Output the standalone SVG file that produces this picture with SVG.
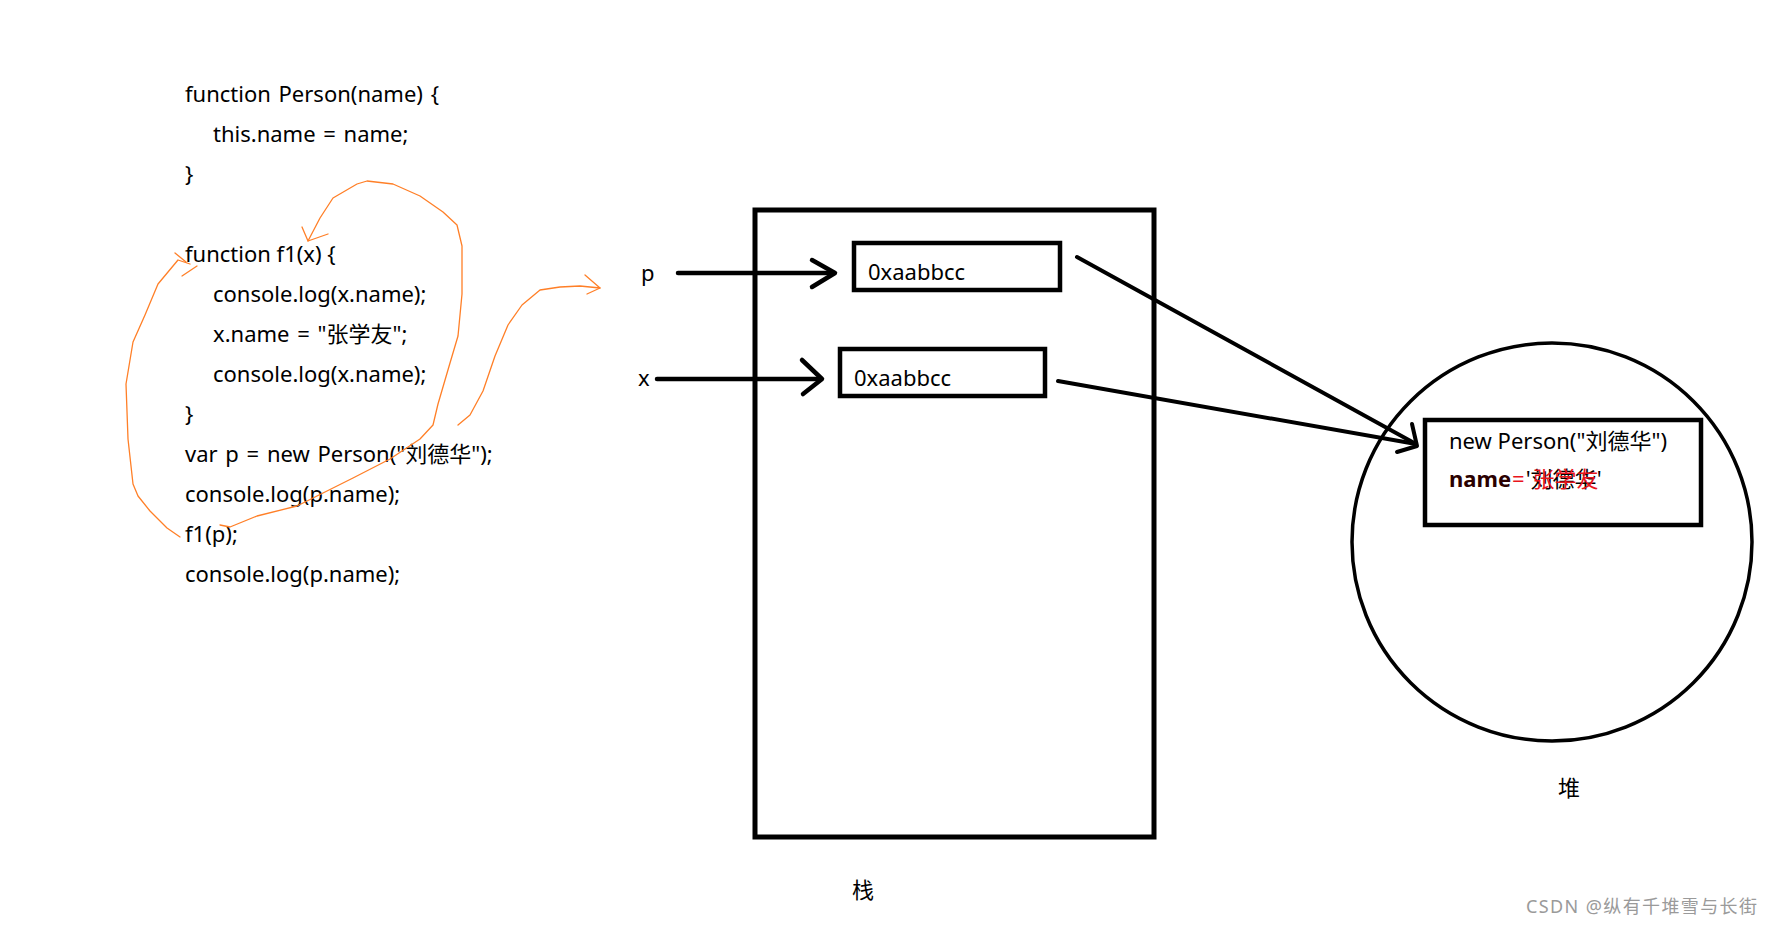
<svg xmlns="http://www.w3.org/2000/svg" width="1773" height="925" viewBox="0 0 1773 925">
<style>
text{font-family:"Noto Sans","Noto Sans CJK SC",sans-serif;font-size:22px;fill:#000}
.cjk{font-family:"Noto Sans CJK SC",sans-serif}
.ws{word-spacing:2px}
.blk{fill:none;stroke:#000;stroke-linecap:round;stroke-linejoin:round}
.box{fill:none;stroke:#000;stroke-width:4.5}
.or{fill:none;stroke:#ff7f27;stroke-width:1.3;stroke-linecap:round;stroke-linejoin:round}
.red{fill:#e8141c}
.wm{font-size:18px;fill:#9a9a9a}
</style>
<rect width="1773" height="925" fill="#fff"/>
<g id="code">
<text class="ws" x="185" y="102">function Person(name) {</text>
<text class="ws" x="213" y="142">this.name = name;</text>
<text x="185" y="182">}</text>
<text x="185" y="262">function f1(x) {</text>
<text x="213" y="302">console.log(x.name);</text>
<text class="ws" x="213" y="342">x.name = "张学友";</text>
<text x="213" y="382">console.log(x.name);</text>
<text x="185" y="422">}</text>
<text class="ws" x="185" y="462">var p = new Person("刘德华");</text>
<text x="185" y="502">console.log(p.name);</text>
<text x="185" y="542">f1(p);</text>
<text x="185" y="582">console.log(p.name);</text>
</g>
<g id="stack">
<rect x="755" y="210" width="399" height="627" fill="none" stroke="#000" stroke-width="5"/>
<text class="cjk" x="863" y="898" font-size="20" text-anchor="middle">栈</text>
</g>
<g id="label-p"><text x="641" y="281">p</text></g>
<g id="label-x"><text x="638" y="386">x</text></g>
<g id="box-p">
<rect class="box" x="854" y="243" width="206" height="47"/>
<text x="868" y="280">0xaabbcc</text>
</g>
<g id="box-x">
<rect class="box" x="840" y="349" width="205" height="47"/>
<text x="854" y="386">0xaabbcc</text>
</g>
<g id="heap">
<ellipse cx="1552" cy="542" rx="200" ry="199" fill="none" stroke="#000" stroke-width="3.5"/>
<text class="cjk" x="1569" y="796" font-size="20" text-anchor="middle">堆</text>
</g>
<g id="heap-object">
<rect class="box" x="1425" y="420" width="276" height="105"/>
<text x="1449" y="449">new Person("刘德华")</text>
<text x="1449" y="487"><tspan font-weight="bold" style="fill:#2a0000">name</tspan><tspan class="red" dx="1">=</tspan><tspan dx="1">'刘德华</tspan><tspan class="red" dx="-64">张学友</tspan><tspan dx="-2">'</tspan></text>
</g>
<g id="connectors">
<g class="blk" stroke-width="4.5">
<line x1="678" y1="273" x2="834" y2="273"/>
<polyline points="812,260 835,273 812,287"/>
<line x1="657" y1="379" x2="821" y2="379"/>
<polyline points="802,360 822,379 803,394"/>
</g>
<g class="blk" stroke-width="4">
<line x1="1077" y1="257" x2="1416" y2="444"/>
<line x1="1058" y1="381" x2="1416" y2="444"/>
<polyline points="1412,424 1417,446 1397,452"/>
</g>
<g>
<polyline class="or" points="180,537 167,528 150,511 138,496 133,484 128,439 126,384 133,342 145,315 158,284 178,260 190,264"/>
<polyline class="or" points="175,253 186,262"/>
<polyline class="or" points="182,276 197,266"/>
<polyline class="or" points="220,525 230,527 257,516 297,506 353,478 390,459 420,439 433,425 438,404 450,363 458,336 462,294 462,246 457,225 443,212 420,196 393,184 367,181 357,184 333,198 320,218 308,241"/>
<polyline class="or" points="302,227 308,241 328,234"/>
<polyline class="or" points="458,425 470,415 483,391 495,356 508,325 522,305 540,290 560,287 580,286 600,288"/>
<polyline class="or" points="585,275 600,288 587,294"/>
</g>
</g>
<text class="wm" x="1526" y="913" textLength="231">CSDN @纵有千堆雪与长街</text>
</svg>
